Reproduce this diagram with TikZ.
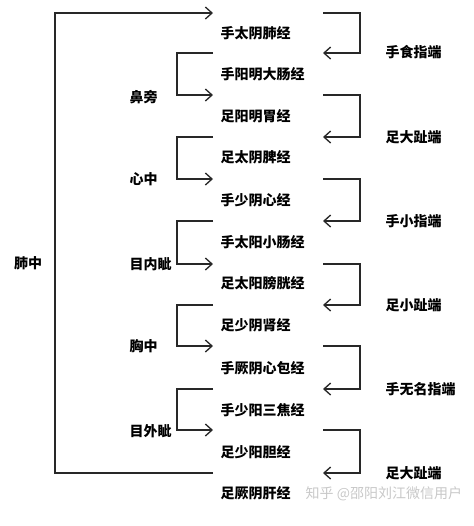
\documentclass[tikz,border=0pt]{standalone}
\usepackage{fontspec}
\setmainfont{Noto Sans CJK SC}
\usetikzlibrary{arrows.meta}

\tikzset{every picture/.style={line width=1pt}}
\tikzset{
  lnk/.style={draw={rgb,255:red,40;green,40;blue,40},-{Straight Barb[length=5pt,width=9pt,line width=1pt]}},
  plain/.style={draw={rgb,255:red,40;green,40;blue,40}},
  jing/.style={anchor=west,font=\fontsize{10.5}{12}\selectfont\bfseries,inner sep=0pt},
  duan/.style={anchor=west,font=\fontsize{10.5}{12}\selectfont\bfseries,inner sep=0pt},
  wm/.style={anchor=west,font=\fontsize{10.5}{12}\selectfont,text={rgb,255:red,200;green,200;blue,200},inner sep=0pt}
}

\begin{document}
\begin{tikzpicture}[x=0.75pt,y=0.75pt,yscale=-1,xscale=1]
\useasboundingbox (0,0) rectangle (474,526);

%Coordinates of the bracket ends, left side
\coordinate (L0) at (213,13);
\coordinate (L1) at (213,53);
\coordinate (L2) at (213,95);
\coordinate (L3) at (213,137);
\coordinate (L4) at (213,179);
\coordinate (L5) at (213,221);
\coordinate (L6) at (213,264);
\coordinate (L7) at (213,305);
\coordinate (L8) at (213,346);
\coordinate (L9) at (213,389);
\coordinate (L10) at (213,430);
\coordinate (L11) at (213,473);
%Coordinates of the bracket ends, right side
\coordinate (R0) at (323,13);
\coordinate (R1) at (323,53);
\coordinate (R2) at (323,95);
\coordinate (R3) at (323,137);
\coordinate (R4) at (323,179);
\coordinate (R5) at (323,221);
\coordinate (R6) at (323,264);
\coordinate (R7) at (323,305);
\coordinate (R8) at (323,346);
\coordinate (R9) at (323,389);
\coordinate (R10) at (323,430);
\coordinate (R11) at (323,473);

% Meridians
\node[jing] (feijing) at (220,33) {手太阴肺经};
\node[jing] (dachang) at (220,74) {手阳明大肠经};
\node[jing] (weijing) at (220,116) {足阳明胃经};
\node[jing] (pijing) at (220,157) {足太阴脾经};
\node[jing] (xinjing) at (220,200) {手少阴心经};
\node[jing] (xiaochang) at (220,242) {手太阳小肠经};
\node[jing] (pangguang) at (220,283) {足太阳膀胱经};
\node[jing] (shenjing) at (220,325) {足少阴肾经};
\node[jing] (xinbao) at (220,368) {手厥阴心包经};
\node[jing] (sanjiao) at (220,410) {手少阳三焦经};
\node[jing] (danjing) at (220,452) {足少阳胆经};
\node[jing] (ganjing) at (220,493) {足厥阴肝经};

% Junctions, left side
\node (feizhong) at (28,263) {\fontsize{10.5}{12}\selectfont\bfseries 肺中};
\node[jing] (bipang) at (129,97) {鼻旁};
\node[jing] (xinzhong) at (129,179) {心中};
\node[jing] (muneizi) at (129,264) {目内眦};
\node[jing] (xiongzhong) at (129,346) {胸中};
\node[jing] (muwaizi) at (129,431) {目外眦};

% Junctions, right side
\node[duan] (shizhi) at (385,52) {手食指端};
\node[duan] (dazhi) at (385,137) {足大趾端};
\node[duan] (xiaozhi) at (385,221) {手小指端};
\node[duan] (xiaozhizu) at (385,305) {足小趾端};
\node[duan] (wuming) at (385,389) {手无名指端};
\node[duan] (dazhizu) at (385,473) {足大趾端};

%Big bracket
\draw[lnk] (L11) -| (55,13) -- (L0);
%Small brackets, left
\draw[lnk] (L1) -- ++(-36,0) |- (L2);
\draw[lnk] (L3) -- ++(-36,0) |- (L4);
\draw[lnk] (L5) -- ++(-36,0) |- (L6);
\draw[lnk] (L7) -- ++(-36,0) |- (L8);
\draw[lnk] (L9) -- ++(-36,0) |- (L10);
%Small brackets, right
\draw[lnk] (R0) -- ++(37,0) |- (R1);
\draw[lnk] (R2) -- ++(37,0) |- (R3);
\draw[lnk] (R4) -- ++(37,0) |- (R5);
\draw[lnk] (R6) -- ++(37,0) |- (R7);
\draw[lnk] (R8) -- ++(37,0) |- (R9);
\draw[lnk] (R10) -- ++(37,0) |- (R11);

% Watermark
\node[wm] (zhihu) at (305,494) {知乎 @邵阳刘江微信用户};

\end{tikzpicture}
\end{document}
